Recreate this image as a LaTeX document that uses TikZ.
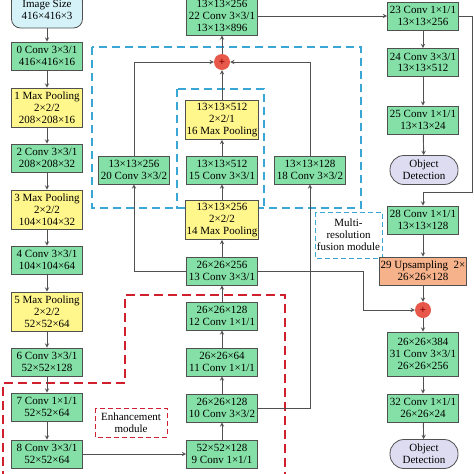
\documentclass[tikz,border=0pt]{standalone}
\usepackage{fontspec}
\setmainfont{Liberation Serif}
\usepackage{tikz}
\usetikzlibrary{positioning}
\usetikzlibrary{arrows}
\definecolor{convgreen}{RGB}{132,224,166}
\definecolor{poolyellow}{RGB}{255,246,140}
\definecolor{upsorange}{RGB}{246,178,138}
\definecolor{detlilac}{RGB}{222,220,240}
\definecolor{imgcyan}{RGB}{212,242,248}
\definecolor{sumred}{RGB}{232,88,74}
\definecolor{modblue}{RGB}{58,166,214}
\definecolor{modred}{RGB}{208,32,46}
\definecolor{edge}{RGB}{80,80,80}
\newcommand\convbox[3]{%
\node[conv] (#1) at (#2) {#3};
}
\newcommand\poolbox[3]{%
\node[pool] (#1) at (#2) {#3};
}

\begin{document}
\begin{tikzpicture}[x=1pt,y=-1pt,>=stealth,
	every node/.style={font=\fontsize{11}{11.8}\selectfont, align=center, inner sep=1pt},
	blk/.style={draw=edge, line width=0.8pt, minimum width=71, minimum height=28},
	conv/.style={blk, fill=convgreen},
	pool/.style={blk, fill=poolyellow, minimum height=39},
	detect/.style={draw=edge, line width=0.8pt, fill=detlilac, rounded corners=14, minimum width=68, minimum height=29},
	sum/.style={circle, fill=sumred, minimum size=16, inner sep=0, font=\bfseries\fontsize{11}{11}\selectfont, text=red!50!black},
	link/.style={->, draw=edge, line width=0.9pt},
	bluemod/.style={dashed, draw=modblue, line width=1.3pt, dash pattern=on 8pt off 5pt},
	redmod/.style={draw=modred, line width=1.6pt, dash pattern=on 9pt off 5pt}]
	%% page and crop
	\useasboundingbox (0,0) rectangle (474,474);
	\clip (0,0) rectangle (474,474);

	% modules (behind everything)
	\draw[bluemod] (92,47) rectangle (361,208);
	\draw[bluemod] (177,89) rectangle (264,208);
	\draw[bluemod, line width=1pt, dash pattern=on 5pt off 3pt] (315,212) rectangle (382,258);
	\node (fusion) at (348.5,235) {Multi-\\resolution\\fusion module};
	\draw[redmod] (3,480) -- (3,383) -- (125,383) -- (125,295) -- (285,295) -- (285,480);
	\draw[redmod, line width=1pt, dash pattern=on 5pt off 3pt] (95,408) rectangle (167,437);
	\node (enh) at (131,422.5) {Enhancement\\module};

	%% backbone
	\node[draw=edge, line width=0.8pt, fill=imgcyan, rounded corners=9, minimum width=71, minimum height=36] (img) at (47,10) {Image Size\\416×416×3};
	\convbox{c0}{47,56}{0 Conv 3×3/1\\416×416×16}
	\poolbox{p1}{47,107.5}{1 Max Pooling\\2×2/2\\208×208×16}
	\convbox{c2}{47,158}{2 Conv 3×3/1\\208×208×32}
	\poolbox{p3}{47,209.5}{3 Max Pooling\\2×2/2\\104×104×32}
	\convbox{c4}{47,260}{4 Conv 3×3/1\\104×104×64}
	\poolbox{p5}{47,311.5}{5 Max Pooling\\2×2/2\\52×52×64}
	\convbox{c6}{47,362}{6 Conv 3×3/1\\52×52×128}
	\convbox{c7}{47,407}{7 Conv 1×1/1\\52×52×64}
	\convbox{c8}{47,454}{8 Conv 3×3/1\\52×52×64}

	\convbox{c9}{222,454}{52×52×128\\9 Conv 1×1/1}
	\convbox{c10}{222,408}{26×26×128\\10 Conv 3×3/2}
	\convbox{c11}{222,362}{26×26×64\\11 Conv 1×1/1}
	\convbox{c12}{222,316}{26×26×128\\12 Conv 1×1/1}
	\convbox{c13}{222,271}{26×26×256\\13 Conv 3×3/1}
	\poolbox{p14}{222,220}{13×13×256\\2×2/2\\14 Max Pooling}
	\convbox{c15}{222,170}{13×13×512\\15 Conv 3×3/1}
	\poolbox{p16}{222,120}{13×13×512\\2×2/1\\16 Max Pooling}
	\node[sum] (s1) at (222,62) {+};
	\node[conv, minimum height=38] (c22) at (222,16) {13×13×256\\22 Conv 3×3/1\\13×13×896};

	\convbox{c20}{134,170}{13×13×256\\20 Conv 3×3/2}
	\convbox{c18}{310,170}{13×13×128\\18 Conv 3×3/2}

	%% heads
	\convbox{c23}{423,16}{23 Conv 1×1/1\\13×13×256}
	\convbox{c24}{423,62.5}{24 Conv 3×3/1\\13×13×512}
	\convbox{c25}{423,120}{25 Conv 1×1/1\\13×13×24}
	\node[detect] (od1) at (424,170) {Object\\Detection};
	\convbox{c28}{423,220}{28 Conv 1×1/1\\13×13×128}
	\node[blk, fill=upsorange, minimum width=82] (u29) at (423,271) {29 Upsampling~~2×\\26×26×128};
	\node[sum] (s2) at (423,310) {+};
	\node[conv, minimum height=44] (c31) at (423,354) {26×26×384\\31 Conv 3×3/1\\26×26×256};
	\convbox{c32}{423,408}{32 Conv 1×1/1\\26×26×24}
	\node[detect] (od2) at (424,454) {Object\\Detection};

	\coordinate (r1) at (472,192);
	\coordinate (k1) at (363,310);

	% connectors
	\foreach \a/\b in {img/c0,c0/p1,p1/c2,c2/p3,p3/c4,c4/p5,p5/c6,c6/c7,c7/c8,
		c9/c10,c10/c11,c11/c12,c12/c13,c13/p14,p14/c15,c15/p16,p16/s1,s1/c22,
		c23/c24,c24/c25,c25/od1,c28/u29,u29/s2,s2/c31,c31/c32,c32/od2}
		\draw[link] (\a) -- (\b);
	\draw[link] (c8.east) -- (c9.west);
	\draw[link] (c13.west) -| (c20.south);
	\draw[link] (c20.north) |- (s1.west);
	\draw[link] (c18.north) |- (s1.east);
	\draw[link] (c10.east) -| (c18.south);
	\draw[link] (c22.east) -- (c23.west);
	\draw[link] (c23.east) -| (r1) -| (c28.north);
	\draw[link] (c13.east) -| (k1) -- (s2.west);
\end{tikzpicture}
\end{document}
